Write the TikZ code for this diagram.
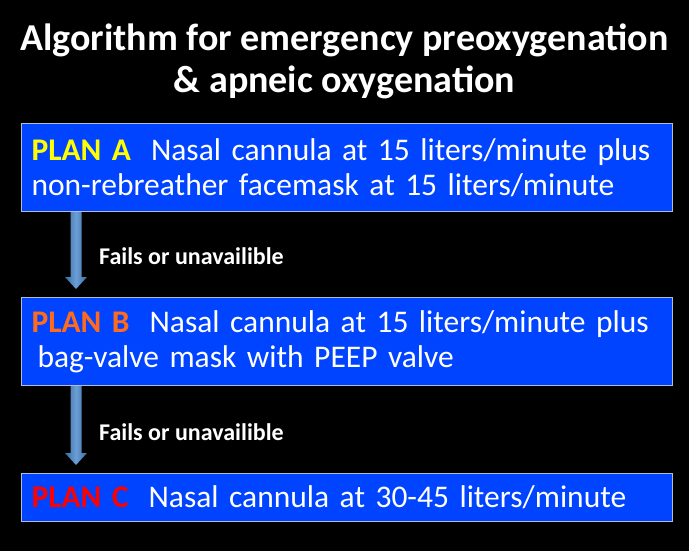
\documentclass[tikz,border=0pt]{standalone}
\usepackage{fontspec}
\setmainfont{Carlito}
\usetikzlibrary{positioning,calc}

\definecolor{boxblue}{HTML}{0044FF}
\definecolor{boxedge}{HTML}{B4BCD4}
\definecolor{planyellow}{HTML}{FFFF00}
\definecolor{planorange}{HTML}{FF6A1C}
\definecolor{planred}{HTML}{FF0000}
\definecolor{arrowdark}{HTML}{3D6C9E}
\definecolor{arrowlight}{HTML}{6A9ED6}

\tikzset{
    planbox/.style={draw=boxedge, line width=1pt, fill=boxblue, text=white, anchor=north west,
        text width=631pt, inner xsep=10pt, inner ysep=0pt, align=left,
        font=\fontsize{31.5}{35}\selectfont},
    titletext/.style={text=white, align=center, inner sep=0pt, font=\fontsize{38}{42}\selectfont\bfseries},
    faillabel/.style={text=white, inner sep=0pt, font=\fontsize{24}{27}\selectfont\bfseries},
    arrowshade/.style={left color=arrowdark, right color=arrowdark, middle color=arrowlight}
}

\begin{document}
\begin{tikzpicture}[x=1pt,y=-1pt]
    % Black slide background
    \fill[black] (0,0) rectangle (689,551);
    \useasboundingbox (0,0) rectangle (689,551);

    % Title
    \node[titletext] (title) at (344.5,61) {Algorithm for emergency preoxygenation\\\& apneic oxygenation};

    % Plans
    \node[planbox, minimum height=88pt] (planA) at (21,123)
        {{\bfseries\color{planyellow}PLAN A}\hspace{20pt}Nasal cannula at 15 liters/minute plus\\non-rebreather facemask at 15 liters/minute};
    \node[planbox, minimum height=88pt] (planB) at (21,297)
        {{\bfseries\color{planorange}PLAN B}\hspace{20pt}Nasal cannula at 15 liters/minute plus\\\hspace*{6pt}bag-valve mask with PEEP valve};
    \node[planbox, minimum height=48pt] (planC) at (21,473)
        {{\bfseries\color{planred}PLAN C}\hspace{20pt}Nasal cannula at 30-45 liters/minute};

    % Block arrows between the plans
    \foreach \src/\dst in {planA/planB, planB/planC}{
        \coordinate (top\src) at ([xshift=55pt]\src.south west);  % start of the shaft
        \coordinate (tip\src) at ([xshift=55pt,yshift=8pt]\dst.north west);  % point of the head
        \shade[arrowshade] ([xshift=-5.5pt]top\src) -- ([xshift=5.5pt]top\src)
            -- ([xshift=5.5pt,yshift=12pt]tip\src) -- ([xshift=11pt,yshift=12pt]tip\src)
            -- (tip\src) -- ([xshift=-11pt,yshift=12pt]tip\src)
            -- ([xshift=-5.5pt,yshift=12pt]tip\src) -- cycle;
        \coordinate (mid\src) at ($(top\src)!0.58!(tip\src)$);
        \node[faillabel, anchor=west, right=23pt of mid\src] (fail\src) {Fails or unavailible};
    }
\end{tikzpicture}
\end{document}
